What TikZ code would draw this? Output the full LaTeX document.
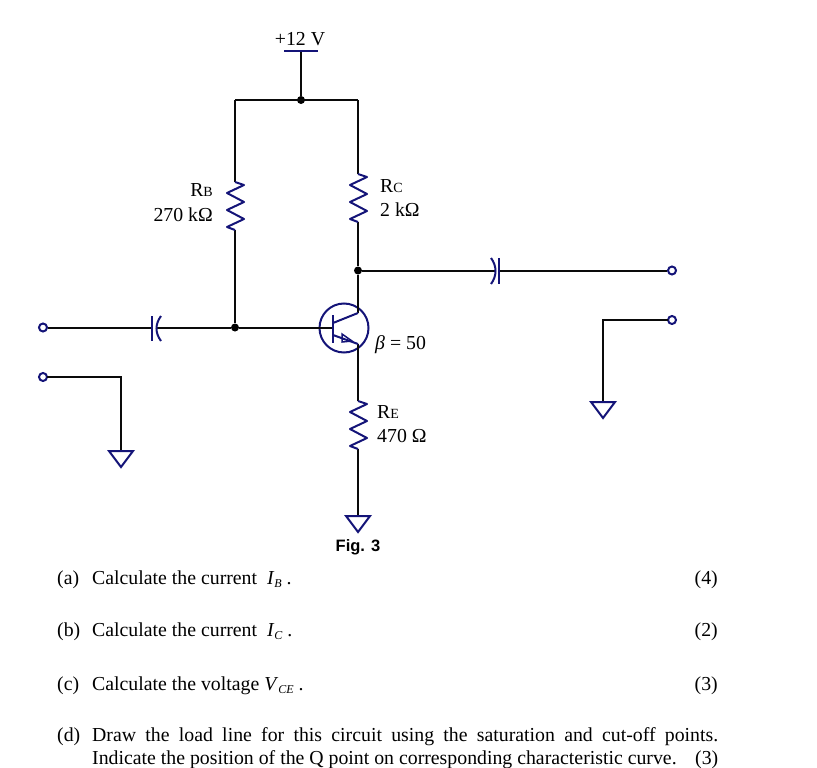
\documentclass[tikz,border=0pt]{standalone}
\usepackage{fontspec}
\setmainfont{Liberation Serif}
\newfontfamily\figfont{Liberation Sans}
\definecolor{partblue}{RGB}{20,20,120}
\definecolor{wireblack}{RGB}{10,10,10}
\newcommand{\txt}{\fontsize{19.8}{23}\selectfont}
\newcommand{\lowsub}[2]{\textit{#1}\raisebox{-3.5pt}{\fontsize{12}{12}\selectfont\textit{#2}}}
\newcommand{\capsub}[2]{#1{\fontsize{14}{14}\selectfont #2}}
\tikzset{
  wire/.style={line width=2pt, draw=wireblack},
  part/.style={line width=2pt, draw=partblue},
  dotnode/.style={shape=circle, fill=black, inner sep=0pt, minimum size=8pt},
  term/.style={shape=circle, draw=partblue, line width=2pt, inner sep=0pt, minimum size=8pt},
  lbl/.style={inner sep=0pt, font=\txt},
  zigzag/.pic={\draw[part, line join=round] (0,0) -- (9,3) -- (-8,11) -- (9,20) -- (-8,28) -- (9,37) -- (-8,45) -- (0,48);},
  gnd/.pic={\draw[part, line join=miter] (-12,0) -- (12,0) -- (0,16) -- cycle;}
}
\begin{document}
\begin{tikzpicture}[x=1pt,y=-1pt]
\useasboundingbox (0,0) rectangle (817,768);
% supply and top rail
\coordinate (Vcc) at (301,51);
\coordinate (railL) at (235,100);
\coordinate (railR) at (358,100);
\node[dotnode] (topdot) at (301,100) {};
\coordinate (RBtop) at (235,182);
\coordinate (RBbot) at (235,230);
\coordinate (RCtop) at (358,174);
\coordinate (RCbot) at (358,222);
\coordinate (REtop) at (358,401);
\coordinate (REbot) at (358,449);
\node[dotnode] (outdot) at (358,270.5) {};
\node[dotnode] (basedot) at (235,327.5) {};
% transistor
\node[shape=circle, draw=partblue, line width=2pt, inner sep=0pt, minimum size=49pt] (Q) at (344,328) {};
\coordinate (barT) at (333,315);
\coordinate (barB) at (333,343);
\coordinate (barC) at (333,323);
\coordinate (barE) at (333,335);
\coordinate (barM) at (333,327.5);
\coordinate (coll) at (358,313);
\coordinate (emit) at (358,344);
% terminals
\node[term] (in1) at (43,327.5) {};
\node[term] (in2) at (43,377) {};
\node[term] (out1) at (672,270.5) {};
\node[term] (out2) at (672,320) {};
% input and output wires
\coordinate (capLa) at (152,327.5);
\coordinate (capLb) at (157,327.5);
\coordinate (capRa) at (496,270.5);
\coordinate (capRb) at (499,270.5);
\coordinate (gndLc) at (121,377);
\coordinate (gndLb) at (121,451);
\coordinate (gndRc) at (603,320);
\coordinate (gndRb) at (603,402);
\coordinate (gndEb) at (358,516);
\path [wire] (Vcc) edge (topdot);
\path [wire] (railL) edge (railR);
\path [wire] (railL) edge (RBtop);
\path [wire] (railR) edge (RCtop);
\path [wire] (RBbot) edge (basedot);
\path [wire] (RCbot) edge (outdot);
\path [wire] (outdot) edge (coll);
\path [wire] (emit) edge (REtop);
\path [wire] (REbot) edge (gndEb);
\path [wire] (in1) edge (capLa);
\path [wire] (capLb) edge (basedot);
\path [wire] (basedot) edge (barM);
\path [wire] (outdot) edge (capRa);
\path [wire] (capRb) edge (out1);
\path [wire, line cap=rect] (in2) edge (gndLc);
\path [wire] (gndLc) edge (gndLb);
\path [wire, line cap=rect] (out2) edge (gndRc);
\path [wire] (gndRc) edge (gndRb);
% parts
\path [part] (Vcc) ++(-17,0) edge ++(34,0);
\path [part] (barT) edge (barB);
\path [part] (barC) edge (coll);
\path [part] (barE) edge (emit);
\draw[part, line width=1.5pt, line join=miter] (342,334) -- (352,341) -- (342,342) -- cycle;
\draw[part] (152,316) -- (152,341);
\draw[part] (161,316) .. controls (155,324) and (155,333) .. (161,341);
\draw[part] (499,258) -- (499,284);
\draw[part] (491,258) .. controls (497,266) and (497,276) .. (491,284);
\pic at (RBtop) {zigzag};
\pic at (RCtop) {zigzag};
\pic at (REtop) {zigzag};
\pic at (gndLb) {gnd};
\pic at (gndRb) {gnd};
\pic at (gndEb) {gnd};
% labels
\node[lbl, anchor=base] (vlabel) at (300,46) {+12 V};
\node[lbl, anchor=base east] (RBname) at (213,196) {\capsub{R}{B}};
\node[lbl, anchor=base east] (RBval) at (213,221) {270 kΩ};
\node[lbl, anchor=base west] (RCname) at (380,192) {\capsub{R}{C}};
\node[lbl, anchor=base west] (RCval) at (380,216) {2 kΩ};
\node[lbl, anchor=base west] (beta) at (375,349) {\textit{β} = 50};
\node[lbl, anchor=base west] (REname) at (377,418) {\capsub{R}{E}};
\node[lbl, anchor=base west] (REval) at (377,442) {470 Ω};
\node[inner sep=0pt, anchor=base, font=\figfont\bfseries\fontsize{16.5}{18}\selectfont] (figlabel) at (358,551) {Fig. 3};
% questions
\node[lbl, anchor=base west] (qa) at (57,584) {(a)};
\node[lbl, anchor=base west] (qat) at (92,584) {Calculate the current~ \lowsub{I}{B} .};
\node[lbl, anchor=base east] (ma) at (718,584) {(4)};
\node[lbl, anchor=base west] (qb) at (57,636) {(b)};
\node[lbl, anchor=base west] (qbt) at (92,636) {Calculate the current~ \lowsub{I}{C} .};
\node[lbl, anchor=base east] (mb) at (718,636) {(2)};
\node[lbl, anchor=base west] (qc) at (57,690) {(c)};
\node[lbl, anchor=base west] (qct) at (92,690) {Calculate the voltage \lowsub{V}{CE} .};
\node[lbl, anchor=base east] (mc) at (718,690) {(3)};
\node[lbl, anchor=base west] (qd) at (57,741) {(d)};
\node[lbl, anchor=north west, text width=626pt, align=justify] (qdt) at (92,727) {Draw the load line for this circuit using the saturation and cut-off points.\linebreak Indicate the position of the Q point on corresponding characteristic curve.\hfill(3)};
\end{tikzpicture}
\end{document}
